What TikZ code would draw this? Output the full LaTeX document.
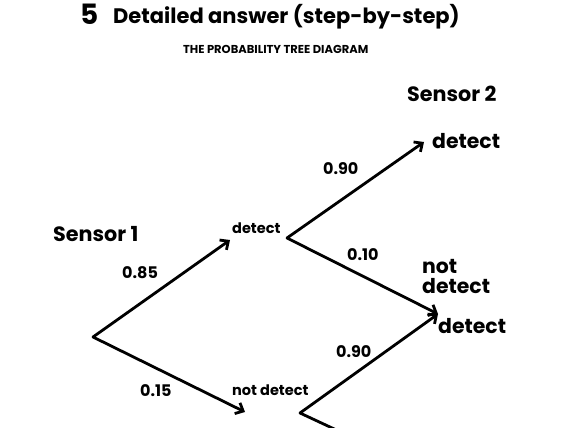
\documentclass[tikz,border=0pt]{standalone}
\usepackage{fontspec}
\setmainfont{Poppins}[BoldFont=* Bold]
\usetikzlibrary{arrows.meta}
\begin{document}
\begin{tikzpicture}[x=1pt,y=-1pt,
  lbl/.style={font=\bfseries\fontsize{#1}{#1}\selectfont, inner sep=0pt, anchor=base west},
  branch/.style={line width=2.8pt, line cap=round, -{Straight Barb[length=6.5pt,width=12pt,line width=2.8pt]}},
  plain/.style={line width=2.8pt, line cap=round}]
\useasboundingbox (0,0) rectangle (571,428);
\clip (0,0) rectangle (571,428);
\node[lbl=28] (five) at (80,25) {5};
\node[lbl=21] (title) at (113,24) {Detailed answer (step-by-step)};
\node[lbl=11.5] (sub) at (183,54) {THE PROBABILITY TREE DIAGRAM};
\node[lbl=20.7] (s2) at (407,102) {Sensor 2};
\node[lbl=20.7] (s1) at (53,241) {Sensor 1};
\node[lbl=20.4] (d1) at (432,148) {detect};
\node[lbl=14.5] (dm) at (232,233) {detect};
\node[lbl=14.5] (ndm) at (232,395) {not detect};
\node[font=\bfseries\fontsize{20.4}{20}\selectfont, inner sep=0pt, align=left, anchor=south west] (nd) at (422,294) {not\\detect};
\node[lbl=20.4] (d2) at (438,333) {detect};
\node[lbl=16] (p85) at (122,278) {0.85};
\node[lbl=16] (p15) at (140,396) {0.15};
\node[lbl=16] (p90a) at (323,175) {0.90};
\node[lbl=16] (p10) at (347,260) {0.10};
\node[lbl=16] (p90b) at (336,357) {0.90};
\coordinate (root) at (93,337);
\coordinate (m1) at (287,238);
\coordinate (m2) at (300,413);
\coordinate (t1) at (230,240);
\coordinate (t2) at (245,412);
\coordinate (t3) at (424,142);
\coordinate (t4) at (438,314);
\coordinate (off) at (345,434);
\draw[branch] (root) -- (t1);
\draw[branch] (root) -- (t2);
\draw[branch] (m1) -- (t3);
\draw[branch] (m1) -- (t4);
\draw[branch] (m2) -- (t4);
\draw[plain] (m2) -- (off);
\end{tikzpicture}
\end{document}
